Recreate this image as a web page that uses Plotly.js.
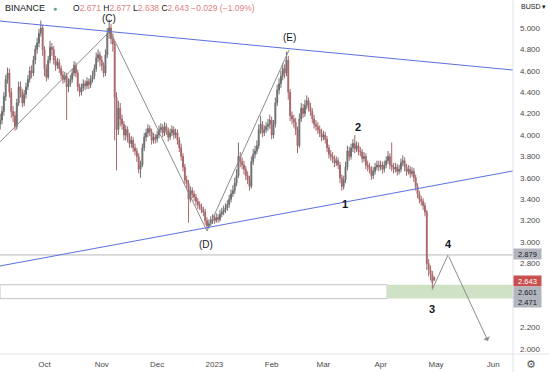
<!DOCTYPE html>
<html>
<head>
<meta charset="utf-8">
<script src="https://cdn.plot.ly/plotly-3.0.1.min.js"></script>
<style>html,body{margin:0;padding:0;background:#fff;}#chart{width:549px;height:372px;}</style>
</head>
<body>
<div id="chart"></div>
<script>
// ---- data (daily candles) ----
const startDate = '2022-09-07';
const openP = [
4.10,4.14,4.22,4.36,4.52,4.58,4.40,4.22,4.18,4.08,4.30,4.45,4.40,4.30,4.38,4.45,4.52,4.60,4.58,4.70,4.80,4.86,4.95,5.00,
4.80,4.62,4.54,4.70,4.82,4.80,4.70,4.65,4.68,4.62,4.56,4.52,4.55,4.45,4.48,4.52,4.58,4.65,4.58,4.45,4.40,4.44,4.48,4.46,4.50,4.47,4.52,4.55,4.62,4.72,4.75,
4.70,4.65,4.58,4.75,4.95,5.00,4.90,4.85,4.35,4.05,4.25,4.15,4.10,4.00,4.05,3.98,3.92,3.95,3.88,3.85,3.80,3.68,3.72,3.88,3.98,4.02,4.06,4.03,3.95,3.98,
3.96,4.00,4.05,4.07,4.02,4.08,4.04,3.98,4.02,4.05,4.00,4.02,3.95,3.88,3.80,3.70,3.58,3.55,3.40,3.48,3.45,3.42,3.38,3.35,3.33,3.30,3.28,3.20,3.15,3.17,3.20,
3.22,3.20,3.23,3.21,3.26,3.28,3.30,3.32,3.35,3.40,3.45,3.48,3.55,3.62,3.80,3.75,3.72,3.68,3.62,3.58,3.52,3.75,3.82,3.85,3.90,4.05,4.10,4.02,4.05,4.08,4.10,
4.14,4.00,4.10,4.30,4.42,4.48,4.55,4.62,4.58,4.70,4.40,4.18,4.15,4.12,4.05,3.90,4.15,4.25,4.20,4.28,4.32,4.26,4.22,4.15,4.10,4.08,4.05,4.02,
3.98,4.00,3.96,3.88,3.82,3.80,3.78,3.74,3.76,3.72,3.60,3.52,3.58,3.70,3.85,3.80,3.88,3.92,3.87,3.90,3.85,3.84,3.78,3.80,3.72,3.70,3.68,3.62,3.66,3.70,3.72,
3.70,3.72,3.68,3.72,3.76,3.80,3.72,3.70,3.68,3.70,3.66,3.68,3.74,3.76,3.70,3.66,3.68,3.64,3.66,3.60,3.52,3.45,3.40,3.38,3.34,3.28,2.80,2.74,2.70,2.671];
const highP = [
4.20,4.27,4.40,4.56,4.63,4.62,4.44,4.27,4.22,4.34,4.50,4.50,4.43,4.42,4.49,4.56,4.64,4.65,4.74,4.84,4.91,4.99,5.07,5.03,
4.83,4.66,4.74,4.88,4.86,4.83,4.74,4.72,4.71,4.65,4.60,4.59,4.58,4.53,4.56,4.62,4.69,4.68,4.61,4.48,4.48,4.52,4.51,4.54,4.53,4.56,4.60,4.66,4.77,4.80,4.78,
4.74,4.68,4.80,5.00,5.08,5.04,4.95,4.88,4.40,4.32,4.30,4.19,4.13,4.09,4.08,4.02,3.99,3.98,3.92,3.88,3.83,3.76,3.92,4.02,4.06,4.10,4.09,4.06,4.02,4.01,
4.04,4.09,4.11,4.10,4.12,4.11,4.07,4.06,4.09,4.08,4.06,4.05,3.98,3.92,3.83,3.73,3.62,3.58,3.52,3.51,3.48,3.45,3.41,3.38,3.36,3.33,3.31,3.23,3.21,3.24,3.26,
3.25,3.27,3.26,3.30,3.32,3.34,3.36,3.39,3.44,3.49,3.53,3.60,3.68,3.93,3.84,3.79,3.76,3.71,3.66,3.62,3.80,3.87,3.90,3.95,4.10,4.18,4.13,4.09,4.12,4.15,4.19,
4.17,4.14,4.35,4.47,4.53,4.60,4.67,4.66,4.78,4.74,4.43,4.22,4.19,4.16,4.08,4.20,4.30,4.29,4.33,4.37,4.35,4.30,4.25,4.19,4.14,4.12,4.09,4.06,
4.04,4.03,3.99,3.91,3.86,3.84,3.81,3.80,3.79,3.75,3.63,3.62,3.75,3.90,3.89,3.92,3.96,4.00,3.94,3.93,3.89,3.87,3.84,3.83,3.76,3.74,3.71,3.70,3.74,3.76,3.76,
3.76,3.75,3.76,3.80,3.85,3.83,3.93,3.74,3.74,3.73,3.72,3.78,3.81,3.79,3.73,3.72,3.71,3.70,3.69,3.63,3.55,3.48,3.43,3.41,3.37,3.30,2.84,2.78,2.73,2.677];
const lowP = [
4.05,4.10,4.18,4.32,4.48,4.35,4.16,4.12,4.04,4.05,4.27,4.35,4.26,4.27,4.34,4.42,4.49,4.53,4.55,4.66,4.76,4.82,4.92,4.74,
4.55,4.50,4.52,4.67,4.74,4.66,4.60,4.62,4.58,4.52,4.48,4.49,4.14,4.40,4.45,4.49,4.55,4.54,4.41,4.36,4.37,4.41,4.42,4.43,4.43,4.44,4.49,4.52,4.59,4.68,4.64,
4.60,4.54,4.55,4.72,4.90,4.85,4.78,3.95,3.67,4.00,4.08,4.05,3.95,3.95,3.93,3.88,3.88,3.84,3.81,3.75,3.64,3.60,3.70,3.85,3.94,3.98,3.99,3.91,3.92,3.92,
3.93,3.97,4.02,3.98,3.99,4.00,3.94,3.95,3.99,3.96,3.97,3.91,3.84,3.76,3.66,3.54,3.50,3.18,3.37,3.41,3.38,3.34,3.31,3.30,3.27,3.24,3.16,3.12,3.13,3.15,3.17,
3.17,3.18,3.18,3.19,3.23,3.25,3.27,3.29,3.32,3.37,3.42,3.45,3.52,3.60,3.70,3.68,3.63,3.58,3.54,3.48,3.50,3.72,3.78,3.82,3.87,4.01,3.98,3.99,4.02,4.04,4.06,
3.96,3.97,4.07,4.27,4.38,4.44,4.51,4.53,4.55,4.33,4.13,4.10,4.07,4.00,3.83,3.88,4.12,4.16,4.17,4.24,4.22,4.18,4.11,4.06,4.04,4.01,3.98,3.94,
3.95,3.92,3.84,3.78,3.76,3.74,3.70,3.71,3.68,3.55,3.48,3.49,3.55,3.67,3.76,3.77,3.84,3.83,3.84,3.81,3.80,3.74,3.75,3.68,3.66,3.64,3.58,3.59,3.63,3.67,3.66,
3.67,3.64,3.65,3.69,3.73,3.68,3.66,3.64,3.65,3.62,3.63,3.65,3.71,3.66,3.62,3.63,3.60,3.61,3.56,3.48,3.41,3.36,3.34,3.30,3.24,2.74,2.68,2.64,2.57,2.638];
const closeP = [
4.14,4.22,4.36,4.52,4.58,4.40,4.22,4.18,4.08,4.30,4.45,4.40,4.30,4.38,4.45,4.52,4.60,4.58,4.70,4.80,4.86,4.95,5.00,4.80,
4.62,4.54,4.70,4.82,4.80,4.70,4.65,4.68,4.62,4.56,4.52,4.55,4.45,4.48,4.52,4.58,4.65,4.58,4.45,4.40,4.44,4.48,4.46,4.50,4.47,4.52,4.55,4.62,4.72,4.75,4.70,
4.65,4.58,4.75,4.95,5.00,4.90,4.85,4.35,4.05,4.25,4.15,4.10,4.00,4.05,3.98,3.92,3.95,3.88,3.85,3.80,3.68,3.72,3.88,3.98,4.02,4.06,4.03,3.95,3.98,3.96,
4.00,4.05,4.07,4.02,4.08,4.04,3.98,4.02,4.05,4.00,4.02,3.95,3.88,3.80,3.70,3.58,3.55,3.40,3.48,3.45,3.42,3.38,3.35,3.33,3.30,3.28,3.20,3.15,3.17,3.20,3.22,
3.20,3.23,3.21,3.26,3.28,3.30,3.32,3.35,3.40,3.45,3.48,3.55,3.62,3.80,3.75,3.72,3.68,3.62,3.58,3.52,3.75,3.82,3.85,3.90,4.05,4.10,4.02,4.05,4.08,4.10,4.14,
4.00,4.10,4.30,4.42,4.48,4.55,4.62,4.58,4.70,4.40,4.18,4.15,4.12,4.05,3.90,4.15,4.25,4.20,4.28,4.32,4.26,4.22,4.15,4.10,4.08,4.05,4.02,3.98,
4.00,3.96,3.88,3.82,3.80,3.78,3.74,3.76,3.72,3.60,3.52,3.58,3.70,3.85,3.80,3.88,3.92,3.87,3.90,3.85,3.84,3.78,3.80,3.72,3.70,3.68,3.62,3.66,3.70,3.72,3.70,
3.72,3.68,3.72,3.76,3.80,3.72,3.70,3.68,3.70,3.66,3.68,3.74,3.76,3.70,3.66,3.68,3.64,3.66,3.60,3.52,3.45,3.40,3.38,3.34,3.28,2.80,2.74,2.70,2.62,2.643];

// wave paths (Elliott count lines)
const waveDates = ['2022-09-06 21:42', '2022-11-05 12:00', '2022-12-28 00:00', '2023-02-10 10:00'];
const wavePrices = [3.935, 4.972, 3.103, 4.794];
const projDates = ['2023-04-28 19:00', '2023-05-07 12:00'];
const projPrices = [2.551, 2.879];
const projEndDate = '2023-05-29 03:00';
const projEndPrice = 2.075;

// trend lines (triangle)
const xStart = '2022-09-06 21:42', xEnd = '2023-06-11 16:19';
const upperLine = [5.065, 4.607];
const lowerLine = [2.776, 3.664];

// levels
const levelLine = 2.879;
const zoneTop = 2.601, zoneBottom = 2.471;
const zoneStart = '2023-04-04 12:00';

// labels
const waveLabels = ['(C)', '(E)', '(D)', '1', '2', '3', '4'];
const waveLabelDates = ['2022-11-04 22:00', '2023-02-10 10:00', '2022-12-27 10:00', '2023-03-12 17:00', '2023-03-19 19:00', '2023-04-28 19:00', '2023-05-07 12:00'];
const waveLabelPrices = [5.093, 4.907, 2.981, 3.355, 4.075, 2.374, 2.981];

const priceTags = ['2.879', '2.643', '2.601', '2.471'];
const priceTagY = [2.888, 2.638, 2.536, 2.442];
const priceTagBg = ['#b2b5be', '#c8504f', '#b2b5be', '#b2b5be'];
const priceTagFg = ['#131722', '#ffffff', '#131722', '#131722'];

const priceTicks = [2.0, 2.2, 2.8, 3.0, 3.2, 3.4, 3.6, 3.8, 4.0, 4.2, 4.4, 4.6, 4.8, 5.0];

const monthTicks = ['2022-10-01', '2022-11-01', '2022-12-01', '2023-01-01', '2023-02-01', '2023-03-01', '2023-04-01', '2023-05-01', '2023-06-01'];
const monthLabels = ['Oct', 'Nov', 'Dec', '2023', 'Feb', 'Mar', 'Apr', 'May', 'Jun'];

// ---- build ----
const dates = [];
{
  const d0 = new Date(startDate + 'T00:00:00Z');
  for (let i = 0; i < closeP.length; i++) {
    const d = new Date(d0.getTime() + i * 86400000);
    dates.push(d.toISOString().slice(0, 10));
  }
}

const FONT = 'Liberation Sans, Arial, sans-serif';
const grey = '#8c8c8c';
const blue = '#5c6fe0';

const traces = [
  {
    type: 'candlestick', x: dates, open: openP, high: highP, low: lowP, close: closeP,
    increasing: {line: {color: '#6e6e6e', width: 1}, fillcolor: '#6e6e6e'},
    decreasing: {line: {color: '#a7676a', width: 1}, fillcolor: '#a7676a'},
    hoverinfo: 'skip', showlegend: false
  },
  {
    type: 'scatter', mode: 'lines', x: waveDates, y: wavePrices,
    line: {color: grey, width: 1}, hoverinfo: 'skip', showlegend: false
  },
  {
    type: 'scatter', mode: 'lines', x: projDates, y: projPrices,
    line: {color: grey, width: 1}, hoverinfo: 'skip', showlegend: false
  }
];

const shapes = [
  {type: 'rect', xref: 'x', yref: 'y', x0: xStart, x1: zoneStart, y0: zoneBottom, y1: zoneTop,
   fillcolor: '#ffffff', line: {color: '#c4c4c4', width: 1}, layer: 'below'},
  {type: 'rect', xref: 'x', yref: 'y', x0: zoneStart, x1: xEnd, y0: zoneBottom, y1: zoneTop,
   fillcolor: '#cfe2c6', line: {width: 0}, layer: 'below'},
  {type: 'line', xref: 'x', yref: 'y', x0: xStart, x1: xEnd, y0: levelLine, y1: levelLine,
   line: {color: '#b8b8b8', width: 1}, layer: 'below'},
  {type: 'line', xref: 'x', yref: 'y', x0: xStart, x1: xEnd, y0: upperLine[0], y1: upperLine[1],
   line: {color: blue, width: 1}},
  {type: 'line', xref: 'x', yref: 'y', x0: xStart, x1: xEnd, y0: lowerLine[0], y1: lowerLine[1],
   line: {color: blue, width: 1}},
  {type: 'line', xref: 'paper', yref: 'paper', x0: 1, x1: 1, y0: -18 / 354, y1: 1,
   line: {color: '#e0e3eb', width: 1}},
  {type: 'line', xref: 'paper', yref: 'paper', x0: 0, x1: 549 / 513, y0: 0, y1: 0,
   line: {color: '#e0e3eb', width: 1}}
];

const annotations = [];
annotations.push({
  xref: 'x', yref: 'y', axref: 'x', ayref: 'y',
  x: projEndDate, y: projEndPrice, ax: projDates[1], ay: projPrices[1],
  text: '', showarrow: true, arrowhead: 1, arrowsize: 1.2, arrowwidth: 1, arrowcolor: grey, standoff: 0, startstandoff: 0
});
for (let i = 0; i < waveLabels.length; i++) {
  const isNum = waveLabels[i].length === 1;
  annotations.push({
    xref: 'x', yref: 'y', x: waveLabelDates[i], y: waveLabelPrices[i],
    text: isNum ? '<b>' + waveLabels[i] + '</b>' : waveLabels[i], showarrow: false,
    font: {family: FONT, size: isNum ? 11 : 10, color: '#131722'},
    xanchor: 'center', yanchor: 'middle'
  });
}
for (let i = 0; i < priceTags.length; i++) {
  annotations.push({
    xref: 'paper', yref: 'y', x: 1, y: priceTagY[i], xanchor: 'left', yanchor: 'middle',
    text: priceTags[i], showarrow: false, bgcolor: priceTagBg[i], width: 25, height: 8, borderpad: 1,
    font: {family: FONT, size: 7.5, color: priceTagFg[i]}
  });
}
annotations.push({xref: 'paper', yref: 'paper', x: 3 / 513, y: 1 - 8 / 354, xanchor: 'left', yanchor: 'middle',
  text: 'BINANCE', showarrow: false, font: {family: FONT, size: 9, color: '#131722'}});
annotations.push({xref: 'paper', yref: 'paper', x: 55 / 513, y: 1 - 8 / 354, xanchor: 'center', yanchor: 'middle',
  text: '●', showarrow: false, font: {family: FONT, size: 7, color: '#5aa58a'}});
const valCol = '#de7f7f';
const hdr = ['O', '2.671', 'H', '2.677', 'L', '2.638', 'C', '2.643'];
let hdrText = '';
for (let i = 0; i < hdr.length; i += 2) {
  hdrText += '<span style="color:#131722">' + hdr[i] + '</span><span style="color:' + valCol + '">' + hdr[i + 1] + '</span> ';
}
hdrText += '<span style="color:' + valCol + '">−0.029 (−1.09%)</span>';
annotations.push({xref: 'paper', yref: 'paper', x: 71 / 513, y: 1 - 8 / 354, xanchor: 'left', yanchor: 'middle',
  text: hdrText, showarrow: false, font: {family: FONT, size: 8.5, color: '#131722'}});
annotations.push({xref: 'paper', yref: 'paper', x: 1 + 6 / 513, y: 1 - 7 / 354, xanchor: 'left', yanchor: 'middle',
  text: 'BUSD ▾', showarrow: false, font: {family: FONT, size: 7, color: '#131722'}});
annotations.push({xref: 'paper', yref: 'paper', x: 1 + 18 / 513, y: -10 / 354, xanchor: 'center', yanchor: 'middle',
  text: '⚙', showarrow: false, font: {family: 'DejaVu Sans', size: 11, color: '#555'}});

const layout = {
  width: 549, height: 372,
  margin: {l: 0, r: 36, t: 0, b: 18, pad: 0},
  paper_bgcolor: '#ffffff', plot_bgcolor: '#ffffff',
  showlegend: false,
  xaxis: {
    type: 'date', range: [xStart, xEnd], rangeslider: {visible: false},
    showgrid: false, zeroline: false, showline: false,
    tickmode: 'array', tickvals: monthTicks, ticktext: monthLabels,
    ticks: '', ticklabelstandoff: 4,
    tickfont: {family: FONT, size: 8, color: '#4a4a4a'}
  },
  yaxis: {
    side: 'right', range: [1.9533, 5.2617], showgrid: false, zeroline: false, showline: false,
    tickmode: 'array', tickvals: priceTicks, tickformat: '.3f', ticks: '', ticklabelstandoff: 6,
    tickfont: {family: FONT, size: 8, color: '#4a4a4a'}
  },
  shapes: shapes,
  annotations: annotations
};

Plotly.newPlot('chart', traces, layout, {staticPlot: true, displayModeBar: false});
</script>
</body>
</html>
